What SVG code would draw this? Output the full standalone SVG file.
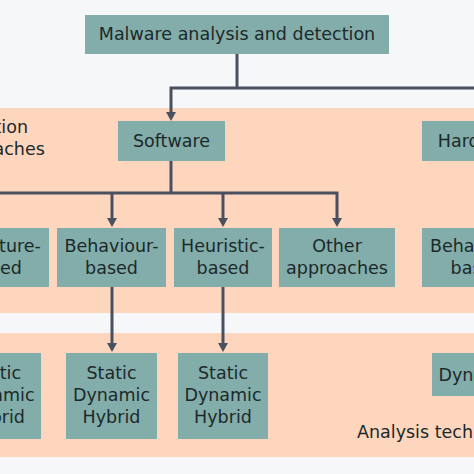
<svg xmlns="http://www.w3.org/2000/svg" width="474" height="474" viewBox="0 0 474 474">
  <defs>
    <style>
      .band { fill: #fdd6bd; }
      .node rect { fill: #83adaa; }
      text { font-family: "DejaVu Sans", Verdana, sans-serif; font-size: 17.5px; fill: #1c2929; }
      .node text { text-anchor: middle; }
      .conn { fill: none; stroke: #4b5060; stroke-width: 3; }
      .arr { marker-end: url(#ah); }
    </style>
    <marker id="ah" markerUnits="userSpaceOnUse" markerWidth="10" markerHeight="9" refX="5" refY="8" orient="auto-start-reverse" viewBox="0 0 10 9">
      <path d="M0,0 L10,0 L5,9 Z" fill="#4b5060" transform="rotate(-90 5 4.5)"/>
    </marker>
  </defs>
  <rect x="0" y="0" width="474" height="474" fill="#f6f7f9"/>
  <rect class="band" x="0" y="108" width="474" height="205"/>
  <rect class="band" x="0" y="333" width="474" height="124"/>
  <text x="-57" y="133">Detection</text>
  <text x="-57" y="155">approaches</text>
  <text x="357" y="438">Analysis techniques</text>

  <g id="connectors">
    <path class="conn" d="M237,54 V88"/>
    <path class="conn" d="M480,88 H171 V113"/>
    <path d="M166,112 L176,112 L171,121 Z" fill="#4b5060"/>
    <path class="conn" d="M171,161 V193"/>
    <path class="conn" d="M-10,193 H337 V219"/>
    <path d="M332,218 L342,218 L337,227 Z" fill="#4b5060"/>
    <path class="conn" d="M112,193 V219"/>
    <path d="M107,218 L117,218 L112,227 Z" fill="#4b5060"/>
    <path class="conn" d="M223,193 V219"/>
    <path d="M218,218 L228,218 L223,227 Z" fill="#4b5060"/>
    <path class="conn" d="M112,287 V344"/>
    <path d="M107,343 L117,343 L112,352 Z" fill="#4b5060"/>
    <path class="conn" d="M223,287 V344"/>
    <path d="M218,343 L228,343 L223,352 Z" fill="#4b5060"/>
  </g>

  <g id="malware" class="node">
    <rect x="85" y="15" width="304" height="39"/>
    <text x="237" y="40">Malware analysis and detection</text>
  </g>
  <g id="software" class="node">
    <rect x="118" y="121" width="107" height="40"/>
    <text x="171.5" y="147">Software</text>
  </g>
  <g id="hardware" class="node">
    <rect x="422" y="121" width="116" height="40"/>
    <text x="480" y="147">Hardware</text>
  </g>
  <g id="signature" class="node">
    <rect x="-58" y="228" width="107" height="59"/>
    <text x="-4.5" y="252">Signature-</text>
    <text x="-4.5" y="274">based</text>
  </g>
  <g id="behaviour" class="node">
    <rect x="57" y="228" width="109" height="59"/>
    <text x="111.5" y="252">Behaviour-</text>
    <text x="111.5" y="274">based</text>
  </g>
  <g id="heuristic" class="node">
    <rect x="174" y="228" width="98" height="59"/>
    <text x="223" y="252">Heuristic-</text>
    <text x="223" y="274">based</text>
  </g>
  <g id="other" class="node">
    <rect x="279" y="228" width="116" height="59"/>
    <text x="337" y="252">Other</text>
    <text x="337" y="274">approaches</text>
  </g>
  <g id="hw-behaviour" class="node">
    <rect x="422" y="228" width="110" height="59"/>
    <text x="477" y="252">Behaviour-</text>
    <text x="477" y="274">based</text>
  </g>
  <g id="sig-tech" class="node">
    <rect x="-49" y="353" width="90" height="86"/>
    <text x="-4" y="379">Static</text>
    <text x="-4" y="401">Dynamic</text>
    <text x="-4" y="423">Hybrid</text>
  </g>
  <g id="beh-tech" class="node">
    <rect x="66" y="353" width="91" height="86"/>
    <text x="111.5" y="379">Static</text>
    <text x="111.5" y="401">Dynamic</text>
    <text x="111.5" y="423">Hybrid</text>
  </g>
  <g id="heu-tech" class="node">
    <rect x="178" y="353" width="90" height="86"/>
    <text x="223" y="379">Static</text>
    <text x="223" y="401">Dynamic</text>
    <text x="223" y="423">Hybrid</text>
  </g>
  <g id="hw-tech" class="node">
    <rect x="432" y="353" width="90" height="43"/>
    <text x="477" y="381">Dynamic</text>
  </g>
</svg>
